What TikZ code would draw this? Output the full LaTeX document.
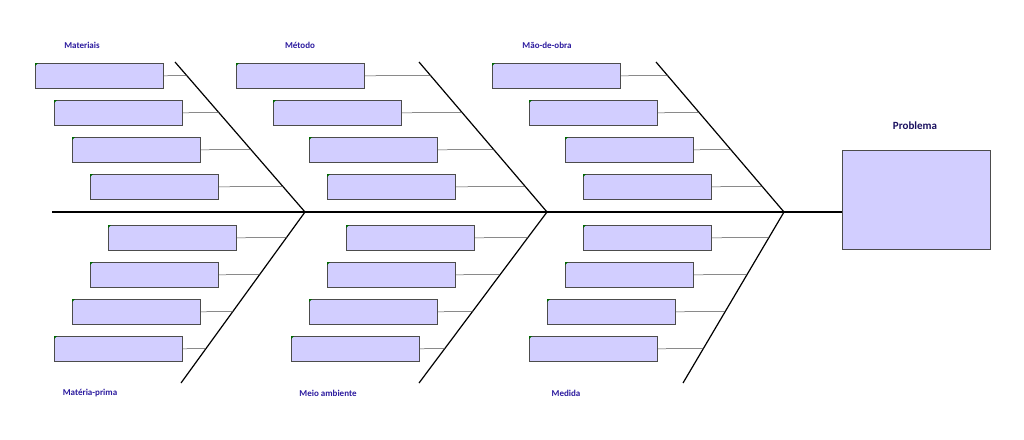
\documentclass[tikz,border=0pt]{standalone}
\usepackage{fontspec}
\setmainfont{Carlito}
\usetikzlibrary{calc}
\definecolor{lbl}{HTML}{2B1A9E}
\definecolor{boxf}{HTML}{D2CEFF}
\begin{document}
\begin{tikzpicture}[x=1pt,y=-1pt,
  box/.style={draw=black!70,fill=boxf,line width=0.6pt,minimum width=128pt,minimum height=25pt,anchor=north west,inner sep=0pt},
  bone/.style={line width=1.2pt},
  twig/.style={black!70,line width=0.5pt},
  lab/.style={text=lbl,font=\bfseries\fontsize{9}{10}\selectfont}]
\useasboundingbox (0,0) rectangle (1024,439);
\draw[bone,line width=2pt] (52,212) -- (842,212);
% diagonals
\foreach \n/\tx/\bx/\sx in {a/175/181/305, b/419/419/547, c/656/683/784}{
  \coordinate (T\n) at (\tx,62);
  \coordinate (S\n) at (\sx,212);
  \coordinate (B\n) at (\bx,383);
  \draw[bone] (T\n) -- (S\n) -- (B\n);
}
% top boxes
\foreach \n/\xa/\xb/\xc/\xd in {a/35/54/72/90, b/236/273/309/327, c/492/529/565/583}{
  \foreach \i/\x/\y in {1/\xa/63, 2/\xb/100, 3/\xc/137, 4/\xd/174}{
    \node[box] (t\n\i) at (\x,\y) {};
    \fill[green!40!black] (t\n\i.north west) -- ++(3,0) -- ++(-3,3) -- cycle;
    \pgfmathsetmacro\t{(\y+12.5-62)/150}
    \coordinate (tp\n\i) at ($(T\n)!\t!(S\n)$);
    \draw[twig] (t\n\i.east) -- (tp\n\i);
  }
}
% bottom boxes
\foreach \n/\xa/\xb/\xc/\xd in {a/108/90/72/54, b/346/327/309/291, c/583/565/547/529}{
  \foreach \i/\x/\y in {1/\xa/225, 2/\xb/262, 3/\xc/299, 4/\xd/336}{
    \node[box] (b\n\i) at (\x,\y) {};
    \fill[green!40!black] (b\n\i.north west) -- ++(3,0) -- ++(-3,3) -- cycle;
    \pgfmathsetmacro\t{(\y+12.5-212)/171}
    \coordinate (bp\n\i) at ($(S\n)!\t!(B\n)$);
    \draw[twig] (b\n\i.east) -- (bp\n\i);
  }
}
\node[draw=black!70,fill=boxf,line width=0.6pt,minimum width=148pt,minimum height=99pt,anchor=north west,inner sep=0pt] (prob) at (842,150) {};
\node[font=\bfseries\fontsize{11}{12}\selectfont,text=lbl!60!black] (lp) at (915,126) {Problema};
\node[lab] (l1) at (82,45) {Materiais};
\node[lab] (l2) at (300,45) {Método};
\node[lab] (l3) at (547,45) {Mão-de-obra};
\node[lab] (l4) at (90,393) {Matéria-prima};
\node[lab] (l5) at (328,393) {Meio ambiente};
\node[lab] (l6) at (566,393) {Medida};
\end{tikzpicture}
\end{document}
